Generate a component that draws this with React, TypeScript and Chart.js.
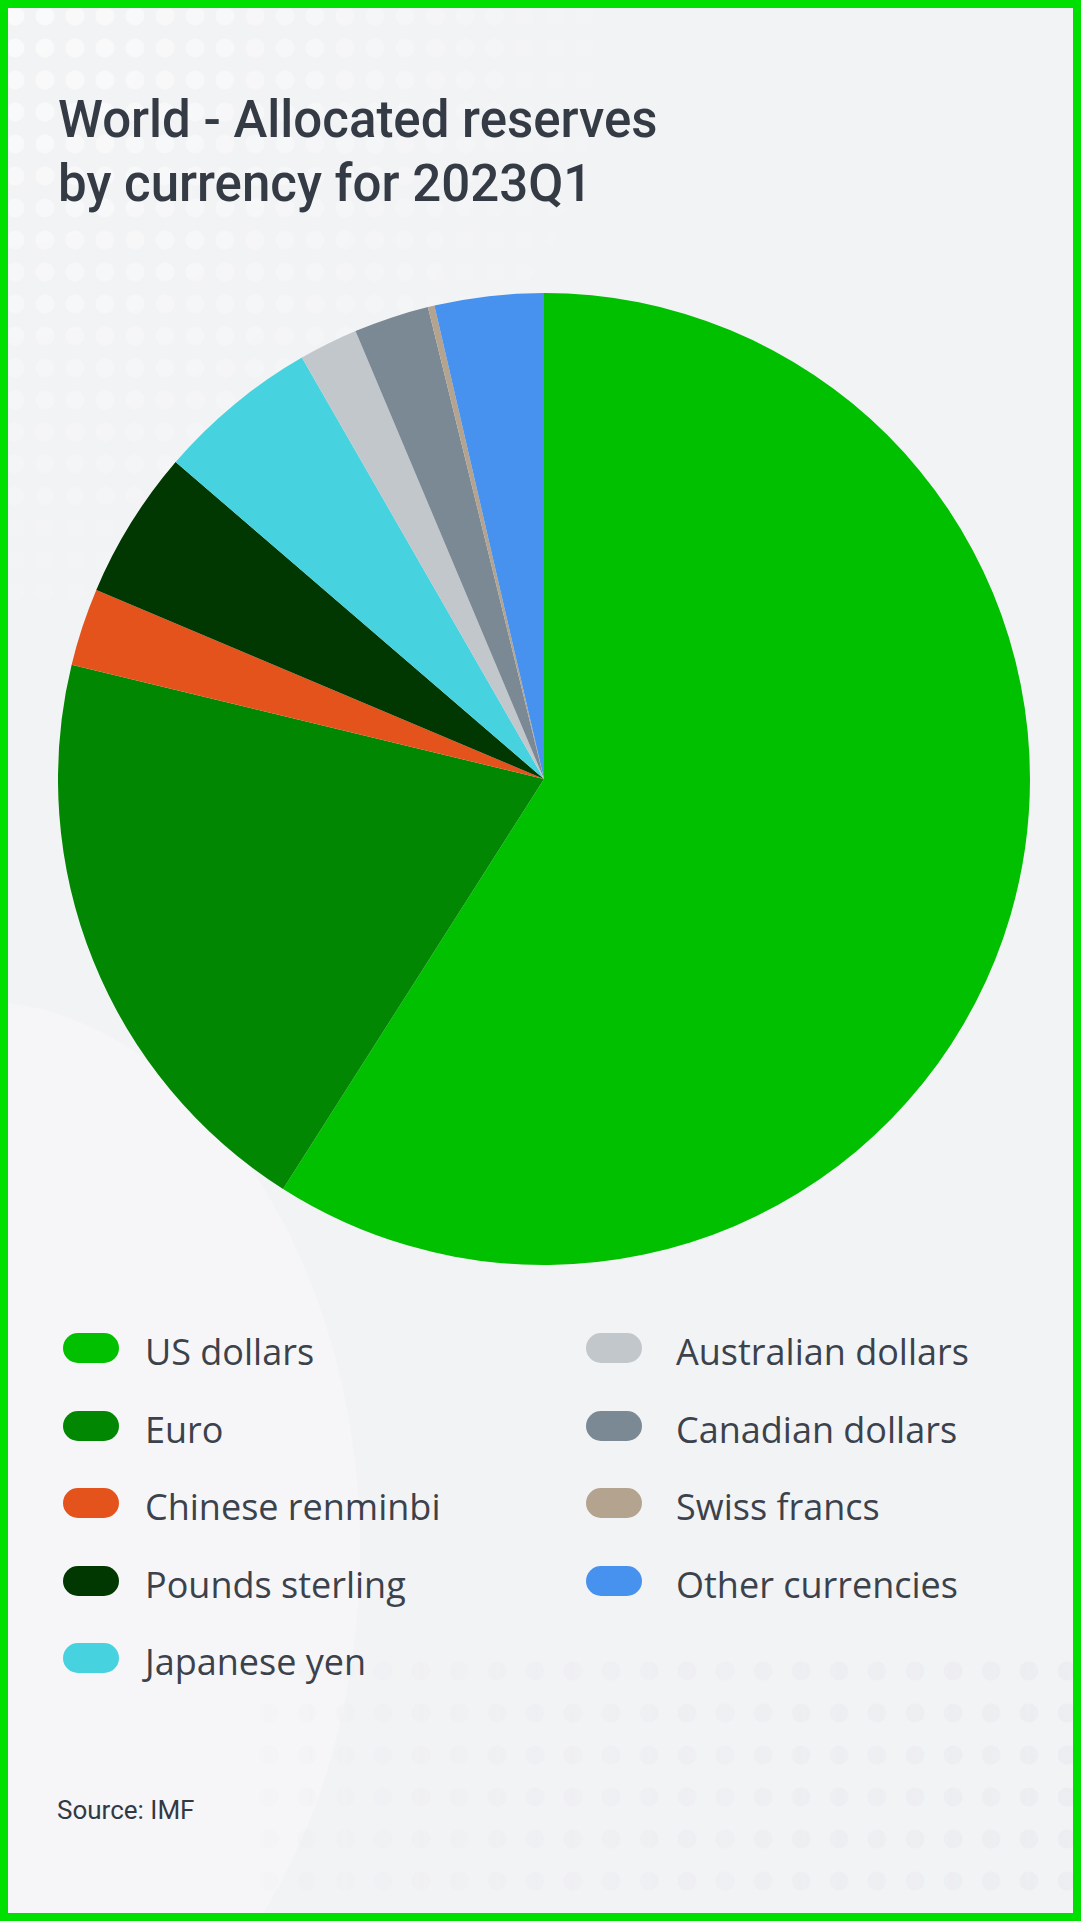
import React, { useEffect, useRef } from "react";
import { Chart, registerables } from "chart.js";

Chart.register(...registerables);

const TITLE_LINES = ["World - Allocated reserves", "by currency for 2023Q1"];
const SOURCE = "Source: IMF";

const categories = [
  "US dollars",
  "Euro",
  "Chinese renminbi",
  "Pounds sterling",
  "Japanese yen",
  "Australian dollars",
  "Canadian dollars",
  "Swiss francs",
  "Other currencies",
];
const shares = [59.02, 19.76, 2.58, 4.95, 5.39, 1.96, 2.5, 0.22, 3.62];
const colors = [
  "#00c000",
  "#018701",
  "#e4531c",
  "#013801",
  "#46d2df",
  "#c2c7cc",
  "#7b8995",
  "#b4a38f",
  "#4692ee",
];

const LEGEND_FONT = "'Open Sans', 'Noto Sans', sans-serif";

export default function App() {
  const canvasRef = useRef<HTMLCanvasElement | null>(null);

  useEffect(() => {
    const canvas = canvasRef.current;
    if (!canvas) return;
    const chart = new Chart(canvas, {
      type: "pie",
      data: {
        labels: categories,
        datasets: [
          {
            data: shares,
            backgroundColor: colors,
            borderWidth: 0,
          },
        ],
      },
      options: {
        responsive: false,
        animation: false,
        devicePixelRatio: 1,
        layout: { padding: 0 },
        plugins: {
          legend: { display: false },
          tooltip: { enabled: false },
          title: { display: false },
        },
      },
    });
    return () => chart.destroy();
  }, []);

  const rowStep = 77.5;

  return (
    <div
      style={{
        position: "absolute",
        left: 0,
        top: 0,
        width: 1081,
        height: 1921,
        overflow: "hidden",
        background: "#f2f3f5",
      }}
    >
      {/* subtle background decoration */}
      <div
        style={{
          position: "absolute",
          left: 0,
          top: 0,
          width: 700,
          height: 700,
          backgroundImage:
            "radial-gradient(circle, rgba(255,255,255,0.6) 9px, rgba(255,255,255,0) 10px)",
          backgroundSize: "30px 32px",
          WebkitMaskImage:
            "radial-gradient(circle at 0% 0%, rgba(0,0,0,1) 0%, rgba(0,0,0,0) 70%)",
          maskImage:
            "radial-gradient(circle at 0% 0%, rgba(0,0,0,1) 0%, rgba(0,0,0,0) 70%)",
        }}
      />
      <div
        style={{
          position: "absolute",
          left: -420,
          top: 1000,
          width: 780,
          height: 1100,
          borderRadius: "50%",
          background: "rgba(255,255,255,0.3)",
        }}
      />
      <div
        style={{
          position: "absolute",
          left: 250,
          top: 1650,
          width: 831,
          height: 271,
          backgroundImage:
            "radial-gradient(circle, rgba(232,234,238,0.6) 9px, rgba(232,234,238,0) 10px)",
          backgroundSize: "38px 42px",
          WebkitMaskImage:
            "linear-gradient(to right, rgba(0,0,0,0.2), rgba(0,0,0,1))",
          maskImage: "linear-gradient(to right, rgba(0,0,0,0.2), rgba(0,0,0,1))",
        }}
      />

      {/* title */}
      <div
        style={{
          position: "absolute",
          left: 58,
          top: 88,
          fontFamily: "Roboto, sans-serif",
          fontWeight: 500,
          fontSize: 51,
          lineHeight: "64px",
          color: "#353b45",
          whiteSpace: "nowrap",
        }}
      >
        {TITLE_LINES.map((l) => (
          <div key={l}>{l}</div>
        ))}
      </div>

      {/* pie */}
      <canvas
        ref={canvasRef}
        width={972}
        height={972}
        style={{
          position: "absolute",
          left: 58,
          top: 293,
          width: 972,
          height: 972,
        }}
      />

      {/* legend */}
      {categories.map((c, i) => {
        const col = i < 5 ? 0 : 1;
        const row = i < 5 ? i : i - 5;
        const swLeft = col === 0 ? 63 : 586;
        const txtLeft = col === 0 ? 145 : 676;
        const swTop = 1333 + row * rowStep;
        const baseline = 1366 + row * rowStep;
        return (
          <React.Fragment key={c}>
            <div
              style={{
                position: "absolute",
                left: swLeft,
                top: swTop,
                width: 56,
                height: 30,
                borderRadius: 15,
                background: colors[i],
              }}
            />
            <div
              style={{
                position: "absolute",
                left: txtLeft,
                top: baseline - 34,
                fontFamily: LEGEND_FONT,
                fontSize: 36,
                lineHeight: "40px",
                color: "#3c424b",
                whiteSpace: "nowrap",
                letterSpacing: 0,
              }}
            >
              {c}
            </div>
          </React.Fragment>
        );
      })}

      {/* source */}
      <div
        style={{
          position: "absolute",
          left: 57,
          top: 1795,
          fontFamily: "Roboto, sans-serif",
          fontSize: 26,
          lineHeight: "30px",
          color: "#333943",
          whiteSpace: "nowrap",
        }}
      >
        {SOURCE}
      </div>

      {/* border */}
      <div
        style={{
          position: "absolute",
          left: 0,
          top: 0,
          width: 1081,
          height: 1921,
          boxSizing: "border-box",
          border: "8px solid #00e000",
          pointerEvents: "none",
        }}
      />
    </div>
  );
}
